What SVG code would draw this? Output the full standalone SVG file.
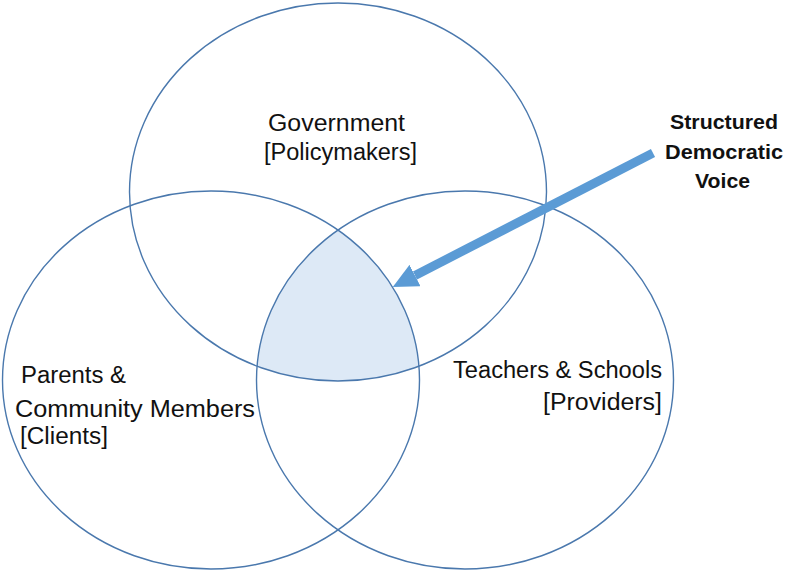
<svg xmlns="http://www.w3.org/2000/svg" width="785" height="572" viewBox="0 0 785 572">
<style>
.ring{fill:none;stroke:#4a78ad;stroke-width:1.4}
.lbl{font-family:"Liberation Sans",Arial,sans-serif;font-size:23px;fill:#111}
.bold{font-family:"Liberation Sans",Arial,sans-serif;font-size:21px;font-weight:bold;fill:#111}
</style>
<defs>
<clipPath id="cTop"><ellipse cx="338" cy="192" rx="208.5" ry="189"/></clipPath>
<clipPath id="cLeft"><ellipse cx="211" cy="380" rx="208.5" ry="189"/></clipPath>
<marker id="head" markerUnits="userSpaceOnUse" markerWidth="26" markerHeight="24" viewBox="0 0 26 24" refX="0" refY="12" orient="auto">
<path d="M0,0 L25,12 L0,24 z" fill="#5b9bd5"/>
</marker>
</defs>
<rect width="785" height="572" fill="#fff"/>
<g id="overlap" clip-path="url(#cTop)"><g clip-path="url(#cLeft)"><ellipse cx="465" cy="380" rx="208.5" ry="189" fill="#dde9f6"/></g></g>
<g id="government"><ellipse class="ring" cx="338" cy="192" rx="208.5" ry="189"/>
<text class="lbl" x="268" y="131" textLength="137" lengthAdjust="spacingAndGlyphs">Government</text>
<text class="lbl" x="264" y="160" textLength="153" lengthAdjust="spacingAndGlyphs">[Policymakers]</text></g>
<g id="parents"><ellipse class="ring" cx="211" cy="380" rx="208.5" ry="189"/>
<text class="lbl" x="21" y="383" textLength="105" lengthAdjust="spacingAndGlyphs">Parents &amp;</text>
<text class="lbl" x="15" y="417" textLength="240" lengthAdjust="spacingAndGlyphs">Community Members</text>
<text class="lbl" x="20" y="444" textLength="88" lengthAdjust="spacingAndGlyphs">[Clients]</text></g>
<g id="teachers"><ellipse class="ring" cx="465" cy="380" rx="208.5" ry="189"/>
<text class="lbl" x="453" y="378" textLength="209" lengthAdjust="spacingAndGlyphs">Teachers &amp; Schools</text>
<text class="lbl" x="543" y="410" textLength="119" lengthAdjust="spacingAndGlyphs">[Providers]</text></g>
<g id="voice">
<text class="bold" x="670" y="129" textLength="108" lengthAdjust="spacingAndGlyphs">Structured</text>
<text class="bold" x="665" y="159" textLength="118" lengthAdjust="spacingAndGlyphs">Democratic</text>
<text class="bold" x="695" y="188" textLength="55" lengthAdjust="spacingAndGlyphs">Voice</text></g>
<g id="connectors">
<line x1="653" y1="153" x2="415" y2="275.5" stroke="#5b9bd5" stroke-width="9" marker-end="url(#head)"/>
</g>
</svg>
